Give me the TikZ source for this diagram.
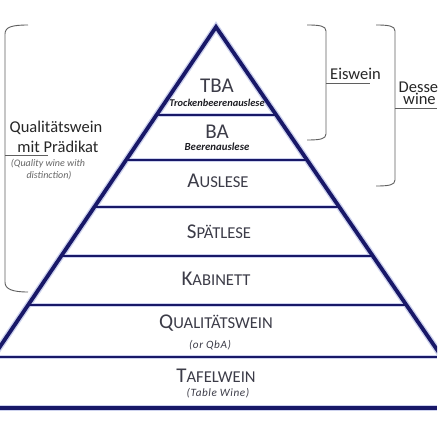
\documentclass[tikz,border=0pt]{standalone}
\usepackage{fontspec}
\setmainfont{Carlito}
\newfontfamily\spacedfont[LetterSpace=5]{Carlito}
\usetikzlibrary{calc}
\definecolor{navy}{RGB}{24,24,104}
\definecolor{glow}{RGB}{205,210,238}
\definecolor{txt}{RGB}{60,60,72}
\definecolor{subtxt}{RGB}{30,30,36}
\definecolor{brk}{RGB}{95,95,95}
\newcommand{\scwd}[2]{{\fontsize{21}{21}\selectfont #1}{\fontsize{16.6}{16.6}\selectfont #2}}
\begin{document}
\begin{tikzpicture}[x=1pt,y=-1pt,
  edgeline/.style={draw=navy, line width=3.8pt, line join=miter},
  bandline/.style={draw=navy, line width=1.8pt},
  glowline/.style={draw=glow, line width=4.5pt},
  lbl/.style={anchor=base, inner sep=0pt, text=txt},
  sublbl/.style={anchor=base, inner sep=0pt, text=subtxt, font=\fontsize{10.4}{10.4}\selectfont\bfseries\itshape},
  notelbl/.style={anchor=base, inner sep=0pt, text=txt, font=\fontsize{10}{10}\selectfont\itshape},
  pnote/.style={anchor=base, inner sep=0pt, text=txt, font=\spacedfont\fontsize{11.2}{11.2}\selectfont\itshape},
  sidelbl/.style={anchor=base, inner sep=0pt, text=black!85, font=\fontsize{16.5}{16.5}\selectfont},
  brace/.style={draw=brk, line width=0.9pt}]
\useasboundingbox (0,0) rectangle (437,438);
\fill[white] (0,0) rectangle (437,438);
\clip (0,0) rectangle (437,438);
% pyramid
\coordinate (A) at (216,27);
\coordinate (L) at (-7,357);
\coordinate (R) at (442,357);
\foreach \yy in {115,160,207,256,305}{
  \draw[glowline] ($(A)!{(\yy-27)/330}!(L)$) -- ($(A)!{(\yy-27)/330}!(R)$);
}
\draw[glowline] (0,357) -- (437,357);
\draw[glowline,line width=6pt] (0,408) -- (437,408);
\draw[glowline,line width=6.5pt] (L) -- (A) -- (R);
\foreach \yy in {115,160,207,256,305}{
  \draw[bandline] ($(A)!{(\yy-27)/330}!(L)$) -- ($(A)!{(\yy-27)/330}!(R)$);
}
\draw[bandline] (0,357) -- (437,357);
\draw[edgeline] (0,408) -- (437,408);
\draw[edgeline] (L) -- (A) -- (R);
% pyramid labels
\node[lbl] (tba) at (217,93) {\fontsize{21}{21}\selectfont TBA};
\node[sublbl] (tbal) at (217,107) {Trockenbeerenauslese};
\node[lbl] (ba) at (217,139) {\fontsize{21}{21}\selectfont BA};
\node[sublbl,font=\fontsize{10.8}{10.8}\selectfont\bfseries\itshape] (bal) at (217,151) {Beerenauslese};
\node[lbl] (aus) at (218,188) {\scwd{A}{USLESE}};
\node[lbl] (spa) at (219,238) {\scwd{S}{PÄTLESE}};
\node[lbl] (kab) at (216,285) {\scwd{K}{ABINETT}};
\node[lbl] (qual) at (216,328) {\scwd{Q}{UALITÄTSWEIN}};
\node[pnote] (qba) at (210,348) {(or QbA)};
\node[lbl] (taf) at (216,382) {\scwd{T}{AFELWEIN}};
\node[pnote] (tw) at (218,396) {(Table Wine)};
% left bracket
\draw[brace] (28,25) .. controls (12,25) and (5,27) .. (5,34) -- (5,282) .. controls (5,289) and (12,292) .. (28,292);
\coordinate (lt) at (5,155);
\coordinate (ltend) at (48,155);
\draw[brace] (lt) -- (ltend);
\node[sidelbl] (qmp1) at (56,133) {Qualitätswein};
\node[sidelbl] (qmp2) at (58,152.5) {mit Prädikat};
\node[notelbl,text=black!60] (qwd1) at (48,167) {(Quality wine with};
\node[notelbl,text=black!60] (qwd2) at (49,178.5) {distinction)};
% Eiswein bracket
\draw[brace] (307,25) .. controls (320,25) and (326,26) .. (326,31) -- (326,134) .. controls (326,139) and (320,140) .. (307,140);
\coordinate (et) at (326,83);
\coordinate (etend) at (370,83);
\draw[brace] (et) -- (etend);
\node[sidelbl,anchor=base west] (eis) at (330,80) {Eiswein};
% Dessert wine bracket
\draw[brace] (376,25) .. controls (389,25) and (395,26) .. (395,31) -- (395,180) .. controls (395,185) and (389,186) .. (376,186);
\coordinate (dt) at (395,108);
\coordinate (dtend) at (437,108);
\draw[brace] (dt) -- (dtend);
\node[sidelbl,anchor=base west] (des1) at (398.5,93) {Dessert};
\node[sidelbl,anchor=base west] (des2) at (403,104.5) {wine};
\end{tikzpicture}
\end{document}
